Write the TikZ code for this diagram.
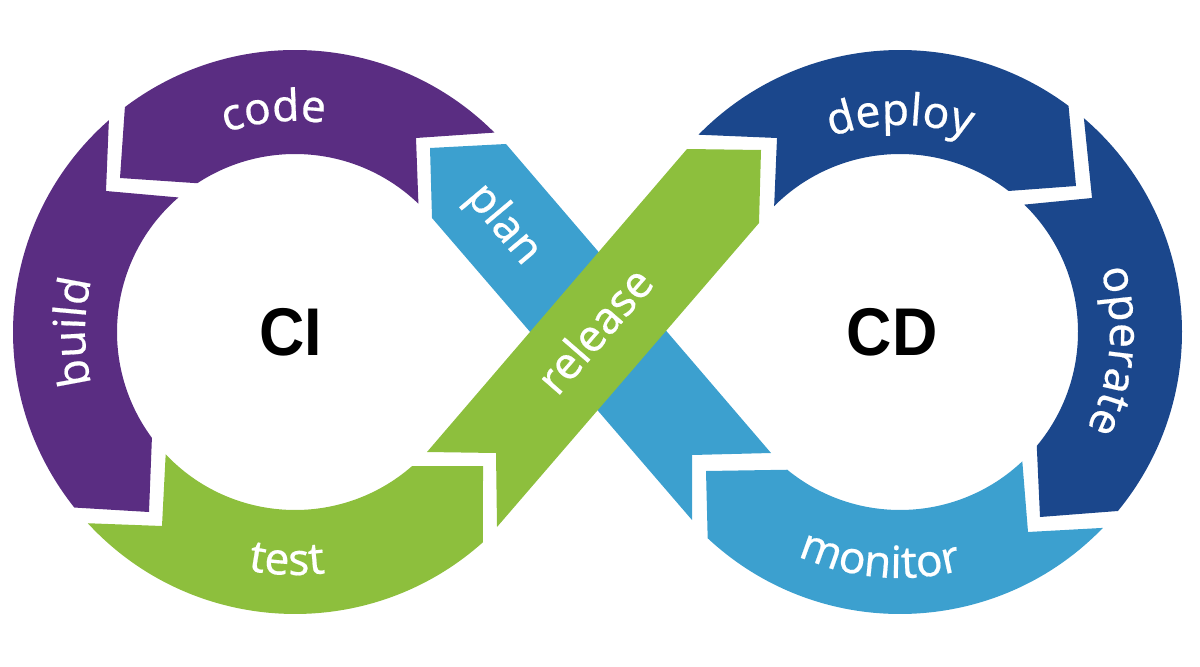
\documentclass[tikz,border=0pt]{standalone}
\usepackage{fontspec}
\setmainfont{Noto Sans}[FakeBold=0.4]
\newfontfamily\hubfont{Liberation Sans Bold}[FakeStretch=0.93]
\usetikzlibrary{calc,decorations.text}
\definecolor{cipurple}{HTML}{5A2D82}
\definecolor{cdnavy}{HTML}{1B478C}
\definecolor{skyblue}{HTML}{3CA0CF}
\definecolor{leafgreen}{HTML}{8DBF3D}
\newcommand{\looptext}{\fontsize{31.5}{31.5}\selectfont\color{white}}
\tikzset{
  hub/.style={font=\hubfont\fontsize{48}{48}\selectfont,text=black},
  strip/.style={font=\fontsize{31.5}{31.5}\selectfont,text=white},
  ringtext/.style={decorate,decoration={text along path,text align=center,text={|\looptext|#1}}}
}
\begin{document}
\begin{tikzpicture}[x=0.025cm,y=0.025cm]
  \useasboundingbox (0,0) rectangle (1200,666);
  \coordinate (cl) at (295,334);
  \coordinate (cr) at (900,334);
  % left loop
  \fill[cipurple] (cl) ++(127.1:282) arc[start angle=127.1,end angle=45,radius=282]
    -- (416,528) -- ($(cl)+(46.1:178)$) arc[start angle=46.1,end angle=123.3,radius=178]
    -- (120,488) -- cycle;
  \fill[cipurple] (cl) ++(131.3:282) arc[start angle=131.3,end angle=218.5,radius=282]
    -- (149,154) -- ($(cl)+(216.5:178)$) arc[start angle=216.5,end angle=130.9,radius=178]
    -- (106,475) -- cycle;
  \fill[leafgreen] (cl) ++(222.7:282) arc[start angle=222.7,end angle=311.8,radius=282]
    -- (483,200) -- ($(cl)+(311.1:178)$) arc[start angle=311.1,end angle=223.4,radius=178]
    -- (162,140) -- cycle;
  % right loop
  \fill[cdnavy] (cr) ++(135.6:282) arc[start angle=135.6,end angle=53.3,radius=282]
    -- (1076,480) -- ($(cr)+(52.4:178)$) arc[start angle=52.4,end angle=135,radius=178]
    -- (777,528) -- cycle;
  \fill[cdnavy] (cr) ++(49.3:282) arc[start angle=49.3,end angle=-39.4,radius=282]
    -- (1040,149) -- ($(cr)+(-39.8:178)$) arc[start angle=-39.8,end angle=45.7,radius=178]
    -- (1092,468) -- cycle;
  \fill[skyblue] (cr) ++(-44:282) arc[start angle=-44,end angle=-133,radius=282]
    -- (706,195) -- ($(cr)+(-129.3:178)$) arc[start angle=-129.3,end angle=-46.6,radius=178]
    -- (1028,134) -- cycle;
  % crossing, green on top
  \fill[skyblue] (430,518) -- (506,522) -- (771,213) -- (692,211) -- (692,146) -- (432,448) -- cycle;
  \fill[leafgreen] (427,214) -- (687,517) -- (761,516) -- (759,443) -- (497,139) -- (496,213) -- cycle;
  % labels
  \path[ringtext=code] (cl) ++(125.5:211) arc[start angle=125.5,end angle=65.5,radius=211];
  \path[ringtext=build] (cl) ++(205:210) arc[start angle=205,end angle=155,radius=210];
  \path[ringtext=test] (cl) ++(238:243) arc[start angle=238,end angle=298,radius=243];
  \path[ringtext=deploy] (cr) ++(125:207) arc[start angle=125,end angle=55,radius=207];
  \path[ringtext=operate] (cr) ++(35:210) arc[start angle=35,end angle=-45,radius=210];
  \path[ringtext=monitor] (cr) ++(225:246) arc[start angle=225,end angle=305,radius=246];
  \node[strip,rotate=-50] (plan) at (503,441) {plan};
  \node[strip,rotate=49] (release) at (594,336) {release};
  \node[hub] (ci) at (291,334) {CI};
  \node[hub] (cd) at (892,334) {CD};
\end{tikzpicture}
\end{document}
